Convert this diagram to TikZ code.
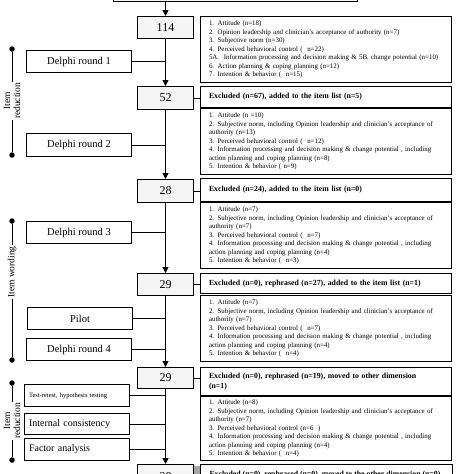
\documentclass[tikz,border=0pt]{standalone}
\usepackage{fontspec}
\setmainfont{Liberation Serif}
\usetikzlibrary{arrows.meta}
\begin{document}
\begin{tikzpicture}[x=1pt,y=-1pt, line width=1pt,
  numbox/.style={draw, fill=gray!8, anchor=north west, minimum width=56pt, minimum height=#1, inner sep=0pt, font=\fontsize{12}{12}\selectfont},
  numbox/.default=22pt,
  sidebox/.style={draw, anchor=north west, minimum width=105pt, minimum height=22pt, inner sep=0pt, font=\fontsize{10.5}{11}\selectfont},
  sideleft/.style={draw, anchor=north west, text width=96pt, minimum height=22pt, inner xsep=4.5pt, inner ysep=0pt, align=left, font=\fontsize{#1}{#1}\selectfont},
  detbox/.style={draw, anchor=north west, text width=234pt, minimum height=#1, inner xsep=8.5pt, inner ysep=0pt, align=left, font=\fontsize{6.9}{8.5}\selectfont},
  hdrbox/.style={draw, anchor=north west, text width=234pt, minimum height=#1, inner xsep=8.5pt, inner ysep=0pt, align=left, font=\bfseries\fontsize{7.8}{10}\selectfont},
  flow/.style={-{Triangle[width=6pt,length=6pt]}},
  bdot/.style={circle, fill=black, inner sep=0pt, minimum size=5.5pt},
  blabel/.style={fill=white, rotate=90, align=center, inner sep=1pt, font=\fontsize{9.5}{10}\selectfont}
]
\useasboundingbox (0,0) rectangle (474,474);

% top box (mostly outside)
\node[draw, fill=gray!8, anchor=south west, minimum width=244pt, minimum height=20pt, inner sep=0pt] (top) at (113,2) {};

% number boxes
\node[numbox] (n1) at (137,16) {114};
\node[numbox=23pt] (n2) at (137,86) {52};
\node[numbox=23pt] (n3) at (137,179) {28};
\node[numbox] (n4) at (137,273) {29};
\node[numbox=21pt] (n5) at (137,367) {29};
\node[numbox=24pt] (n6) at (137,464) {28};

% detail boxes
\node[detbox=66pt] (d1) at (200,16) {1. Attitude (n=18)\\
2. Opinion leadership and clinician's acceptance of authority (n=7)\\
3. Subjective norm (n=30)\\
4. Perceived behavioral control (\ \ n=22)\\
5A.\ \ Information processing and decision making \& 5B. change potential (n=10)\\
6. Action planning \& coping planning (n=12)\\
7. Intention \& behavior (\ \ n=15)};

\node[hdrbox=21pt] (h2) at (200,86) {Excluded (n=67), added to the item list (n=5)};
\node[detbox=66pt] (d2) at (200,108) {1. Attitude (n =10)\\
2. Subjective norm, including Opinion leadership and clinician's acceptance of\\
authority (n=13)\\
3. Perceived behavioral control (\ \ n=12)\\
4. Information processing and decision making \& change potential , including\\
action planning and coping planning (n=8)\\
5. Intention \& behavior (\ n=9)};

\node[hdrbox=23pt] (h3) at (200,178) {Excluded (n=24), added to the item list (n=0)};
\node[detbox=66pt] (d3) at (200,202) {1. Attitude (n=7)\\
2. Subjective norm, including Opinion leadership and clinician's acceptance of\\
authority (n=7)\\
3. Perceived behavioral control (\ \ n=7)\\
4. Information processing and decision making \& change potential , including\\
action planning and coping planning (n=4)\\
5. Intention \& behavior (\ \ n=3)};

\node[hdrbox=20pt] (h4) at (200,273) {Excluded (n=0), rephrased (n=27), added to the item list (n=1)};
\node[detbox=66pt] (d4) at (200,295) {1. Attitude (n=7)\\
2. Subjective norm, including Opinion leadership and clinician's acceptance of\\
authority (n=7)\\
3. Perceived behavioral control (\ \ n=7)\\
4. Information processing and decision making \& change potential , including\\
action planning and coping planning (n=4)\\
5. Intention \& behavior (\ \ n=4)};

\node[hdrbox=28pt] (h5) at (200,367) {Excluded (n=0), rephrased (n=19), moved to other dimension\\(n=1)};
\node[detbox=64pt] (d5) at (200,396) {1. Attitude (n=8)\\
2. Subjective norm, including Opinion leadership and clinician's acceptance of\\
authority (n=7)\\
3. Perceived behavioral control (n=6\ \ )\\
4. Information processing and decision making \& change potential , including\\
action planning and coping planning (n=4)\\
5. Intention \& behavior (\ \ n=4)};

\node[draw, anchor=north west, minimum width=252pt, minimum height=28pt, inner sep=0pt] (h6) at (200,464) {};
\node[anchor=north west, inner sep=0pt, font=\bfseries\fontsize{7.8}{10}\selectfont] (h6t) at (209,470.5) {Excluded (n=0), rephrased (n=0), moved to the other dimension (n=0)};

% side boxes
\node[sidebox] (s1) at (26,50) {Delphi round 1};
\node[sidebox, minimum height=23pt] (s2) at (26,133) {Delphi round 2};
\node[sidebox] (s3) at (26,221) {Delphi round 3};
\node[sidebox] (s4) at (27,307) {Pilot};
\node[sidebox] (s5) at (26,338) {Delphi round 4};
\node[sideleft=6.5] (s6) at (24,384) {Test-retest, hypothesis testing};
\node[sideleft=10, minimum height=21pt] (s7) at (24,413) {Internal consistency};
\node[sideleft=10] (s8) at (24,438) {Factor analysis};

% main flow
\draw[flow] (top.south -| n1.north) -- (n1.north);
\draw[flow] (n1.south) -- (n2.north);
\draw[flow] (n2.south) -- (n3.north);
\draw[flow] (n3.south) -- (n4.north);
\draw[flow] (n4.south) -- (n5.north);
\draw[flow] (n5.south) -- (n6.north);

% side connectors
\foreach \s/\n in {s1/n2, s2/n3, s3/n4, s4/n5, s5/n5, s6/n6, s7/n6, s8/n6}
  \draw (\s.east) -- (\s.east -| \n.north);

% number to header connectors
\foreach \n/\h in {n2/h2, n3/h3, n4/h4, n5/h5}
  \draw (\n.east) -- (\n.east -| \h.west);
\fill[gray!70] (193.5,466) rectangle (199.5,476);

% brackets
\node[bdot] (b1a) at (12,49) {};
\node[bdot] (b1b) at (12,155) {};
\draw (b1a) -- (b1b);
\node[blabel] (l1) at (12,101) {Item\\reduction};

\node[bdot] (b2a) at (12,221) {};
\node[bdot] (b2b) at (12,360) {};
\draw (b2a) -- (b2b);
\node[blabel] (l2) at (12,272) {Item wording};

\node[bdot] (b3a) at (12,383) {};
\node[bdot] (b3b) at (12,460) {};
\draw (b3a) -- (b3b);
\node[blabel] (l3) at (12,421) {Item\\reduction};
\end{tikzpicture}
\end{document}
